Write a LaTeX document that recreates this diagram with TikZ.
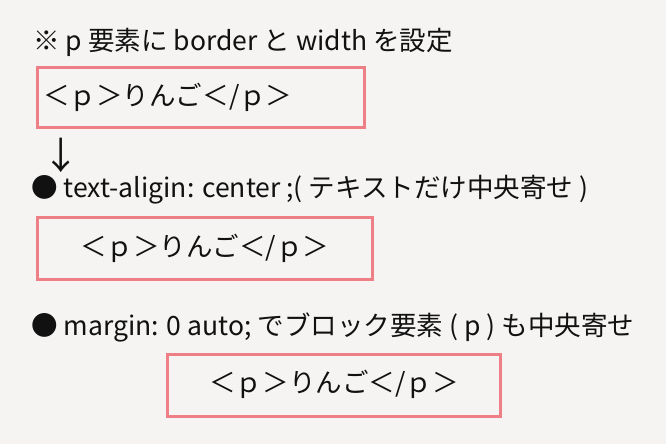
\documentclass[tikz,border=0pt]{standalone}
\usepackage{fontspec}
\setmainfont{Noto Sans CJK JP}
\definecolor{bg}{HTML}{F5F4F3}
\definecolor{pinkline}{HTML}{EE7F86}
\definecolor{ink}{HTML}{111111}
\tikzset{
  pbox/.style={draw=pinkline, line width=2.25pt, rectangle, inner sep=0pt},
  txt/.style={inner sep=0pt, text=ink, font=\fontsize{19.9pt}{23pt}\selectfont},
}
\begin{document}
\begin{tikzpicture}[x=0.75pt,y=-0.75pt]
\fill[bg] (0,0) rectangle (666,444);
\useasboundingbox (0,0) rectangle (666,444);
% header 1
\node[txt, anchor=west] (h1) at (33,42) {※ p 要素に border と width を設定};
% box 1
\node[pbox, minimum width=244.875pt, minimum height=45.375pt] (b1) at (200.75,97.25) {};
\node[txt, anchor=west] (t1) at (43,97) {＜ｐ＞りんご＜/ｐ＞};
% arrow
\node[txt, anchor=center, font=\fontsize{28pt}{30pt}\selectfont] (arr) at (61,155.5) {↓};
% header 2
\node[txt, anchor=west] (h2) at (31,190) {● text-aligin: center ;( テキストだけ中央寄せ )};
% box 2
\node[pbox, minimum width=250.875pt, minimum height=46.5pt] (b2) at (204.75,248.5) {};
\node[txt] (t2) at (204.75,248) {＜ｐ＞りんご＜/ｐ＞};
% header 3
\node[txt, anchor=west] (h3) at (31,327) {● margin: 0 auto; でブロック要素 ( p ) も中央寄せ};
% box 3
\node[pbox, minimum width=249.75pt, minimum height=46.875pt] (b3) at (334,385.25) {};
\node[txt] (t3) at (334,384) {＜ｐ＞りんご＜/ｐ＞};
\end{tikzpicture}
\end{document}
